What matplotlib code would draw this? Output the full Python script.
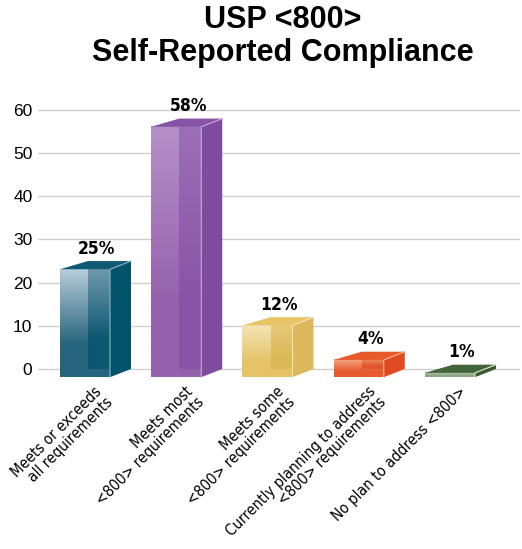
import numpy as np
import matplotlib
matplotlib.use("Agg")
import matplotlib.pyplot as plt
from matplotlib import font_manager as fm
from matplotlib.colors import LinearSegmentedColormap
from matplotlib.patches import Polygon

categories = [
    "Meets or exceeds\nall requirements",
    "Meets most\n<800> requirements",
    "Meets some\n<800> requirements",
    "Currently planning to address\n<800> requirements",
    "No plan to address <800>",
]
values = [25, 58, 12, 4, 1]
value_labels = ["25%", "58%", "12%", "4%", "1%"]
yticks = [0, 10, 20, 30, 40, 50, 60]

# front top, front bottom, inner top, inner bottom, side, top face, edge
bar_colors = [
    ("#b6ccd9", "#26647c", "#6f98ab", "#0b5870", "#02546c", "#0f5a72", "#8fb3c3"),
    ("#b590c6", "#9462ad", "#9d6fb7", "#8954a7", "#7f4b9f", "#8653a6", "#c7a9d6"),
    ("#f4e4b6", "#e5c367", "#e7c979", "#dbb957", "#ddb95b", "#e7c466", "#f6e6bb"),
    ("#f5a583", "#e65a2e", "#ef8a60", "#e2542a", "#df4b1f", "#e8592a", "#f7b79a"),
    ("#b8c9b0", "#8aa380", "#8aa380", "#7b9670", "#3c5a30", "#44653a", "#dfe8da"),
]

plt.rcParams["font.family"] = ["Liberation Sans", "DejaVu Sans"]

# condensed face for the small labels, if one is installed
fonts = fm.fontManager.ttflist
if any(f.name == "Liberation Sans Narrow" for f in fonts):
    narrow = dict(family="Liberation Sans Narrow")
    cat_size = 12
elif any(f.name == "DejaVu Sans" and f.stretch == "condensed" for f in fonts):
    narrow = dict(family="DejaVu Sans", fontstretch="condensed")
    cat_size = 11
else:
    narrow = dict(family="Liberation Sans")
    cat_size = 10

W, H = 522, 549
fig = plt.figure(figsize=(W / 100, H / 100), dpi=100)
ax = fig.add_axes([38 / W, (H - 385) / H, 482 / W, 285 / H])

xmin, xmax = -0.515, 4.767
ymin, ymax = -3.71, 62.3

hw = 0.274   # half width of front face
dxl = 0.307  # depth shift of left edge
dxr = 0.230  # depth shift of right edge
dy = 1.9     # depth shift in value units


def gradient(x0, x1, y0, y1, c_top, c_bot, z):
    cmap = LinearSegmentedColormap.from_list("g", [(0, c_bot), (0.3, c_bot), (1, c_top)])
    ax.imshow(np.linspace(0, 1, 200).reshape(-1, 1), cmap=cmap,
              extent=(x0, x1, y0, y1), origin="lower", aspect="auto",
              zorder=z, interpolation="bilinear")


for i, v in enumerate(values):
    ft, fb, it, ib, side, top, edge = bar_colors[i]
    fl, fr = i - hw, i + hw
    bl, br = fl + dxl, fr + dxr
    # front face
    gradient(fl, fr, -dy, v - dy, ft, fb, 3)
    # back face seen through the front
    if v - dy > 0:
        gradient(bl, fr, 0, v - dy, it, ib, 3.1)
    # side face
    ax.add_patch(Polygon([(fr, -dy), (fr, v - dy), (br, v), (br, 0)],
                         closed=True, facecolor=side, edgecolor="none", zorder=3.2))
    # top face
    ax.add_patch(Polygon([(fl, v - dy), (bl, v), (br, v), (fr, v - dy)],
                         closed=True, facecolor=top, edgecolor="none", zorder=3.2))
    ax.plot([fr, fr, br], [-dy, v - dy, v], color=edge, lw=0.8, zorder=3.3)
    ax.text(i + 0.13, v + 2.9, value_labels[i], ha="center", va="center",
            fontsize=12.5, fontweight="bold", zorder=4, **narrow)
    ax.text(i + 0.1, -3.5, categories[i], rotation=45, rotation_mode="anchor",
            ha="right", va="top", multialignment="right", linespacing=1.0,
            fontsize=cat_size, **narrow)

ax.set_xlim(xmin, xmax)
ax.set_ylim(ymin, ymax)
ax.set_xticks([])
ax.set_yticks(yticks)
ax.tick_params(axis="y", length=0, pad=4, labelsize=12.5)
ax.yaxis.grid(True, color="#cfcfcf", lw=1)
ax.set_axisbelow(True)
for s in ax.spines.values():
    s.set_visible(False)

fig.text(283 / W, 1 - 5 / H, "USP <800>\nSelf-Reported Compliance", ha="center",
         va="top", fontsize=22, fontweight="bold", linespacing=1.15)

fig.savefig("out.png", dpi=100)
